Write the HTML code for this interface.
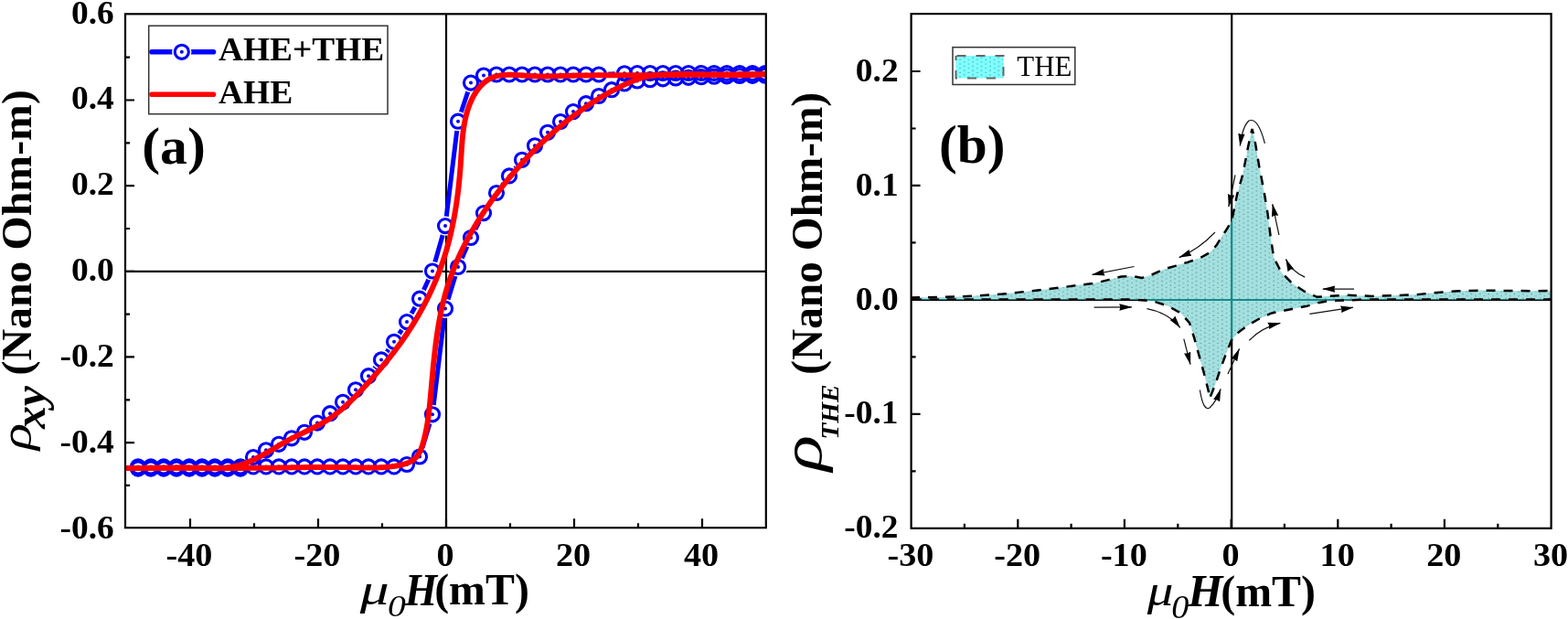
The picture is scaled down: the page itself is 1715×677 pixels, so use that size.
<!DOCTYPE html>
<html><head><meta charset="utf-8"><style>
html,body{margin:0;padding:0;background:#fff;width:1715px;height:677px;overflow:hidden}
svg{display:block}
</style></head><body>
<svg width="1715" height="677" viewBox="0 0 1715 677">
<defs>
<clipPath id="ca"><rect x="137.0" y="15.3" width="700.8" height="561.9"/></clipPath>
<pattern id="dots" x="0" y="0" width="9.4" height="4.7" patternUnits="userSpaceOnUse"><rect width="9.4" height="4.7" fill="#a4e0e0"/><rect x="1.3" y="1.3" width="1.4" height="1.4" fill="#629e9e"/><rect x="6" y="3.65" width="1.4" height="1.4" fill="#629e9e"/></pattern>
<pattern id="dots2" x="0" y="0" width="9.4" height="4.7" patternUnits="userSpaceOnUse"><rect width="9.4" height="4.7" fill="#80ffff"/><rect x="1.3" y="1.3" width="1.3" height="1.3" fill="#3aa0a0"/><rect x="6" y="3.65" width="1.3" height="1.3" fill="#3aa0a0"/></pattern>
</defs>
<rect width="1715" height="677" fill="#fff"/>
<g stroke="#000" stroke-width="2.2" fill="none">
<line x1="137.0" y1="296.9" x2="837.8" y2="296.9"/>
<line x1="488.0" y1="15.3" x2="488.0" y2="577.2"/>
</g>
<g clip-path="url(#ca)">
<polyline points="151.0,512.6 165.0,512.6 179.0,512.6 193.0,512.6 207.0,512.6 221.0,512.6 235.0,512.6 249.0,512.6 263.0,512.6 277.0,500.0 291.0,492.3 305.0,485.8 319.0,479.3 333.0,472.8 347.0,462.6 361.0,452.2 375.0,439.8 389.0,426.3 403.0,411.2 417.0,393.4 431.0,373.8 445.0,352.1 459.0,326.7 473.0,296.5 487.0,247.1 501.0,132.7 515.0,90.6 529.0,82.5 543.0,81.5 557.0,81.5 571.0,81.5 585.0,81.5 599.0,81.5 613.0,81.5 627.0,81.5 641.0,81.5 655.0,81.5 669.0,81.0 683.0,80.3 697.0,80.1 711.0,80.0 725.0,80.0 739.0,80.0 753.0,80.0 767.0,80.0 781.0,80.0 795.0,80.0 809.0,80.0 823.0,80.0 837.0,80.0" fill="none" stroke="#0000ff" stroke-width="5" stroke-linejoin="round"/>
<polyline points="151.0,510.4 165.0,510.4 179.0,510.4 193.0,510.4 207.0,510.4 221.0,510.4 235.0,510.4 249.0,510.4 263.0,510.4 277.0,510.4 291.0,510.4 305.0,510.4 319.0,510.4 333.0,510.4 347.0,510.4 361.0,510.4 375.0,510.4 389.0,510.4 403.0,510.4 417.0,510.4 431.0,510.4 445.0,508.0 459.0,499.5 473.0,453.3 487.0,337.5 501.0,292.0 515.0,260.0 529.0,233.1 543.0,211.0 557.0,192.4 571.0,174.8 585.0,159.3 599.0,144.8 613.0,133.0 627.0,122.1 641.0,113.2 655.0,105.0 669.0,98.2 683.0,91.5 697.0,88.5 711.0,87.2 725.0,86.3 739.0,85.5 753.0,84.8 767.0,84.2 781.0,83.7 795.0,83.3 809.0,83.0 823.0,82.8 837.0,82.7" fill="none" stroke="#0000ff" stroke-width="5" stroke-linejoin="round"/>
<circle cx="151.0" cy="512.6" r="10.6" fill="#fff"/>
<circle cx="165.0" cy="512.6" r="10.6" fill="#fff"/>
<circle cx="179.0" cy="512.6" r="10.6" fill="#fff"/>
<circle cx="193.0" cy="512.6" r="10.6" fill="#fff"/>
<circle cx="207.0" cy="512.6" r="10.6" fill="#fff"/>
<circle cx="221.0" cy="512.6" r="10.6" fill="#fff"/>
<circle cx="235.0" cy="512.6" r="10.6" fill="#fff"/>
<circle cx="249.0" cy="512.6" r="10.6" fill="#fff"/>
<circle cx="263.0" cy="512.6" r="10.6" fill="#fff"/>
<circle cx="277.0" cy="500.0" r="10.6" fill="#fff"/>
<circle cx="291.0" cy="492.3" r="10.6" fill="#fff"/>
<circle cx="305.0" cy="485.8" r="10.6" fill="#fff"/>
<circle cx="319.0" cy="479.3" r="10.6" fill="#fff"/>
<circle cx="333.0" cy="472.8" r="10.6" fill="#fff"/>
<circle cx="347.0" cy="462.6" r="10.6" fill="#fff"/>
<circle cx="361.0" cy="452.2" r="10.6" fill="#fff"/>
<circle cx="375.0" cy="439.8" r="10.6" fill="#fff"/>
<circle cx="389.0" cy="426.3" r="10.6" fill="#fff"/>
<circle cx="403.0" cy="411.2" r="10.6" fill="#fff"/>
<circle cx="417.0" cy="393.4" r="10.6" fill="#fff"/>
<circle cx="431.0" cy="373.8" r="10.6" fill="#fff"/>
<circle cx="445.0" cy="352.1" r="10.6" fill="#fff"/>
<circle cx="459.0" cy="326.7" r="10.6" fill="#fff"/>
<circle cx="473.0" cy="296.5" r="10.6" fill="#fff"/>
<circle cx="487.0" cy="247.1" r="10.6" fill="#fff"/>
<circle cx="501.0" cy="132.7" r="10.6" fill="#fff"/>
<circle cx="515.0" cy="90.6" r="10.6" fill="#fff"/>
<circle cx="529.0" cy="82.5" r="10.6" fill="#fff"/>
<circle cx="543.0" cy="81.5" r="10.6" fill="#fff"/>
<circle cx="557.0" cy="81.5" r="10.6" fill="#fff"/>
<circle cx="571.0" cy="81.5" r="10.6" fill="#fff"/>
<circle cx="585.0" cy="81.5" r="10.6" fill="#fff"/>
<circle cx="599.0" cy="81.5" r="10.6" fill="#fff"/>
<circle cx="613.0" cy="81.5" r="10.6" fill="#fff"/>
<circle cx="627.0" cy="81.5" r="10.6" fill="#fff"/>
<circle cx="641.0" cy="81.5" r="10.6" fill="#fff"/>
<circle cx="655.0" cy="81.5" r="10.6" fill="#fff"/>
<circle cx="683.0" cy="80.3" r="10.6" fill="#fff"/>
<circle cx="697.0" cy="80.1" r="10.6" fill="#fff"/>
<circle cx="711.0" cy="80.0" r="10.6" fill="#fff"/>
<circle cx="725.0" cy="80.0" r="10.6" fill="#fff"/>
<circle cx="739.0" cy="80.0" r="10.6" fill="#fff"/>
<circle cx="753.0" cy="80.0" r="10.6" fill="#fff"/>
<circle cx="767.0" cy="80.0" r="10.6" fill="#fff"/>
<circle cx="781.0" cy="80.0" r="10.6" fill="#fff"/>
<circle cx="795.0" cy="80.0" r="10.6" fill="#fff"/>
<circle cx="809.0" cy="80.0" r="10.6" fill="#fff"/>
<circle cx="823.0" cy="80.0" r="10.6" fill="#fff"/>
<circle cx="837.0" cy="80.0" r="10.6" fill="#fff"/>
<circle cx="151.0" cy="510.4" r="10.6" fill="#fff"/>
<circle cx="165.0" cy="510.4" r="10.6" fill="#fff"/>
<circle cx="179.0" cy="510.4" r="10.6" fill="#fff"/>
<circle cx="193.0" cy="510.4" r="10.6" fill="#fff"/>
<circle cx="207.0" cy="510.4" r="10.6" fill="#fff"/>
<circle cx="221.0" cy="510.4" r="10.6" fill="#fff"/>
<circle cx="235.0" cy="510.4" r="10.6" fill="#fff"/>
<circle cx="249.0" cy="510.4" r="10.6" fill="#fff"/>
<circle cx="263.0" cy="510.4" r="10.6" fill="#fff"/>
<circle cx="277.0" cy="510.4" r="10.6" fill="#fff"/>
<circle cx="291.0" cy="510.4" r="10.6" fill="#fff"/>
<circle cx="305.0" cy="510.4" r="10.6" fill="#fff"/>
<circle cx="319.0" cy="510.4" r="10.6" fill="#fff"/>
<circle cx="333.0" cy="510.4" r="10.6" fill="#fff"/>
<circle cx="347.0" cy="510.4" r="10.6" fill="#fff"/>
<circle cx="361.0" cy="510.4" r="10.6" fill="#fff"/>
<circle cx="375.0" cy="510.4" r="10.6" fill="#fff"/>
<circle cx="389.0" cy="510.4" r="10.6" fill="#fff"/>
<circle cx="403.0" cy="510.4" r="10.6" fill="#fff"/>
<circle cx="417.0" cy="510.4" r="10.6" fill="#fff"/>
<circle cx="431.0" cy="510.4" r="10.6" fill="#fff"/>
<circle cx="445.0" cy="508.0" r="10.6" fill="#fff"/>
<circle cx="459.0" cy="499.5" r="10.6" fill="#fff"/>
<circle cx="473.0" cy="453.3" r="10.6" fill="#fff"/>
<circle cx="487.0" cy="337.5" r="10.6" fill="#fff"/>
<circle cx="501.0" cy="292.0" r="10.6" fill="#fff"/>
<circle cx="515.0" cy="260.0" r="10.6" fill="#fff"/>
<circle cx="529.0" cy="233.1" r="10.6" fill="#fff"/>
<circle cx="543.0" cy="211.0" r="10.6" fill="#fff"/>
<circle cx="557.0" cy="192.4" r="10.6" fill="#fff"/>
<circle cx="571.0" cy="174.8" r="10.6" fill="#fff"/>
<circle cx="585.0" cy="159.3" r="10.6" fill="#fff"/>
<circle cx="599.0" cy="144.8" r="10.6" fill="#fff"/>
<circle cx="613.0" cy="133.0" r="10.6" fill="#fff"/>
<circle cx="627.0" cy="122.1" r="10.6" fill="#fff"/>
<circle cx="641.0" cy="113.2" r="10.6" fill="#fff"/>
<circle cx="655.0" cy="105.0" r="10.6" fill="#fff"/>
<circle cx="669.0" cy="98.2" r="10.6" fill="#fff"/>
<circle cx="683.0" cy="91.5" r="10.6" fill="#fff"/>
<circle cx="697.0" cy="88.5" r="10.6" fill="#fff"/>
<circle cx="711.0" cy="87.2" r="10.6" fill="#fff"/>
<circle cx="725.0" cy="86.3" r="10.6" fill="#fff"/>
<circle cx="739.0" cy="85.5" r="10.6" fill="#fff"/>
<circle cx="753.0" cy="84.8" r="10.6" fill="#fff"/>
<circle cx="767.0" cy="84.2" r="10.6" fill="#fff"/>
<circle cx="781.0" cy="83.7" r="10.6" fill="#fff"/>
<circle cx="795.0" cy="83.3" r="10.6" fill="#fff"/>
<circle cx="809.0" cy="83.0" r="10.6" fill="#fff"/>
<circle cx="823.0" cy="82.8" r="10.6" fill="#fff"/>
<circle cx="837.0" cy="82.7" r="10.6" fill="#fff"/>
<circle cx="151.0" cy="512.6" r="7.55" fill="none" stroke="#0000ff" stroke-width="3.1"/>
<circle cx="151.0" cy="512.6" r="2" fill="#0000ff"/>
<circle cx="165.0" cy="512.6" r="7.55" fill="none" stroke="#0000ff" stroke-width="3.1"/>
<circle cx="165.0" cy="512.6" r="2" fill="#0000ff"/>
<circle cx="179.0" cy="512.6" r="7.55" fill="none" stroke="#0000ff" stroke-width="3.1"/>
<circle cx="179.0" cy="512.6" r="2" fill="#0000ff"/>
<circle cx="193.0" cy="512.6" r="7.55" fill="none" stroke="#0000ff" stroke-width="3.1"/>
<circle cx="193.0" cy="512.6" r="2" fill="#0000ff"/>
<circle cx="207.0" cy="512.6" r="7.55" fill="none" stroke="#0000ff" stroke-width="3.1"/>
<circle cx="207.0" cy="512.6" r="2" fill="#0000ff"/>
<circle cx="221.0" cy="512.6" r="7.55" fill="none" stroke="#0000ff" stroke-width="3.1"/>
<circle cx="221.0" cy="512.6" r="2" fill="#0000ff"/>
<circle cx="235.0" cy="512.6" r="7.55" fill="none" stroke="#0000ff" stroke-width="3.1"/>
<circle cx="235.0" cy="512.6" r="2" fill="#0000ff"/>
<circle cx="249.0" cy="512.6" r="7.55" fill="none" stroke="#0000ff" stroke-width="3.1"/>
<circle cx="249.0" cy="512.6" r="2" fill="#0000ff"/>
<circle cx="263.0" cy="512.6" r="7.55" fill="none" stroke="#0000ff" stroke-width="3.1"/>
<circle cx="263.0" cy="512.6" r="2" fill="#0000ff"/>
<circle cx="277.0" cy="500.0" r="7.55" fill="none" stroke="#0000ff" stroke-width="3.1"/>
<circle cx="277.0" cy="500.0" r="2" fill="#0000ff"/>
<circle cx="291.0" cy="492.3" r="7.55" fill="none" stroke="#0000ff" stroke-width="3.1"/>
<circle cx="291.0" cy="492.3" r="2" fill="#0000ff"/>
<circle cx="305.0" cy="485.8" r="7.55" fill="none" stroke="#0000ff" stroke-width="3.1"/>
<circle cx="305.0" cy="485.8" r="2" fill="#0000ff"/>
<circle cx="319.0" cy="479.3" r="7.55" fill="none" stroke="#0000ff" stroke-width="3.1"/>
<circle cx="319.0" cy="479.3" r="2" fill="#0000ff"/>
<circle cx="333.0" cy="472.8" r="7.55" fill="none" stroke="#0000ff" stroke-width="3.1"/>
<circle cx="333.0" cy="472.8" r="2" fill="#0000ff"/>
<circle cx="347.0" cy="462.6" r="7.55" fill="none" stroke="#0000ff" stroke-width="3.1"/>
<circle cx="347.0" cy="462.6" r="2" fill="#0000ff"/>
<circle cx="361.0" cy="452.2" r="7.55" fill="none" stroke="#0000ff" stroke-width="3.1"/>
<circle cx="361.0" cy="452.2" r="2" fill="#0000ff"/>
<circle cx="375.0" cy="439.8" r="7.55" fill="none" stroke="#0000ff" stroke-width="3.1"/>
<circle cx="375.0" cy="439.8" r="2" fill="#0000ff"/>
<circle cx="389.0" cy="426.3" r="7.55" fill="none" stroke="#0000ff" stroke-width="3.1"/>
<circle cx="389.0" cy="426.3" r="2" fill="#0000ff"/>
<circle cx="403.0" cy="411.2" r="7.55" fill="none" stroke="#0000ff" stroke-width="3.1"/>
<circle cx="403.0" cy="411.2" r="2" fill="#0000ff"/>
<circle cx="417.0" cy="393.4" r="7.55" fill="none" stroke="#0000ff" stroke-width="3.1"/>
<circle cx="417.0" cy="393.4" r="2" fill="#0000ff"/>
<circle cx="431.0" cy="373.8" r="7.55" fill="none" stroke="#0000ff" stroke-width="3.1"/>
<circle cx="431.0" cy="373.8" r="2" fill="#0000ff"/>
<circle cx="445.0" cy="352.1" r="7.55" fill="none" stroke="#0000ff" stroke-width="3.1"/>
<circle cx="445.0" cy="352.1" r="2" fill="#0000ff"/>
<circle cx="459.0" cy="326.7" r="7.55" fill="none" stroke="#0000ff" stroke-width="3.1"/>
<circle cx="459.0" cy="326.7" r="2" fill="#0000ff"/>
<circle cx="473.0" cy="296.5" r="7.55" fill="none" stroke="#0000ff" stroke-width="3.1"/>
<circle cx="473.0" cy="296.5" r="2" fill="#0000ff"/>
<circle cx="487.0" cy="247.1" r="7.55" fill="none" stroke="#0000ff" stroke-width="3.1"/>
<circle cx="487.0" cy="247.1" r="2" fill="#0000ff"/>
<circle cx="501.0" cy="132.7" r="7.55" fill="none" stroke="#0000ff" stroke-width="3.1"/>
<circle cx="501.0" cy="132.7" r="2" fill="#0000ff"/>
<circle cx="515.0" cy="90.6" r="7.55" fill="none" stroke="#0000ff" stroke-width="3.1"/>
<circle cx="515.0" cy="90.6" r="2" fill="#0000ff"/>
<circle cx="529.0" cy="82.5" r="7.55" fill="none" stroke="#0000ff" stroke-width="3.1"/>
<circle cx="529.0" cy="82.5" r="2" fill="#0000ff"/>
<circle cx="543.0" cy="81.5" r="7.55" fill="none" stroke="#0000ff" stroke-width="3.1"/>
<circle cx="543.0" cy="81.5" r="2" fill="#0000ff"/>
<circle cx="557.0" cy="81.5" r="7.55" fill="none" stroke="#0000ff" stroke-width="3.1"/>
<circle cx="557.0" cy="81.5" r="2" fill="#0000ff"/>
<circle cx="571.0" cy="81.5" r="7.55" fill="none" stroke="#0000ff" stroke-width="3.1"/>
<circle cx="571.0" cy="81.5" r="2" fill="#0000ff"/>
<circle cx="585.0" cy="81.5" r="7.55" fill="none" stroke="#0000ff" stroke-width="3.1"/>
<circle cx="585.0" cy="81.5" r="2" fill="#0000ff"/>
<circle cx="599.0" cy="81.5" r="7.55" fill="none" stroke="#0000ff" stroke-width="3.1"/>
<circle cx="599.0" cy="81.5" r="2" fill="#0000ff"/>
<circle cx="613.0" cy="81.5" r="7.55" fill="none" stroke="#0000ff" stroke-width="3.1"/>
<circle cx="613.0" cy="81.5" r="2" fill="#0000ff"/>
<circle cx="627.0" cy="81.5" r="7.55" fill="none" stroke="#0000ff" stroke-width="3.1"/>
<circle cx="627.0" cy="81.5" r="2" fill="#0000ff"/>
<circle cx="641.0" cy="81.5" r="7.55" fill="none" stroke="#0000ff" stroke-width="3.1"/>
<circle cx="641.0" cy="81.5" r="2" fill="#0000ff"/>
<circle cx="655.0" cy="81.5" r="7.55" fill="none" stroke="#0000ff" stroke-width="3.1"/>
<circle cx="655.0" cy="81.5" r="2" fill="#0000ff"/>
<circle cx="683.0" cy="80.3" r="7.55" fill="none" stroke="#0000ff" stroke-width="3.1"/>
<circle cx="683.0" cy="80.3" r="2" fill="#0000ff"/>
<circle cx="697.0" cy="80.1" r="7.55" fill="none" stroke="#0000ff" stroke-width="3.1"/>
<circle cx="697.0" cy="80.1" r="2" fill="#0000ff"/>
<circle cx="711.0" cy="80.0" r="7.55" fill="none" stroke="#0000ff" stroke-width="3.1"/>
<circle cx="711.0" cy="80.0" r="2" fill="#0000ff"/>
<circle cx="725.0" cy="80.0" r="7.55" fill="none" stroke="#0000ff" stroke-width="3.1"/>
<circle cx="725.0" cy="80.0" r="2" fill="#0000ff"/>
<circle cx="739.0" cy="80.0" r="7.55" fill="none" stroke="#0000ff" stroke-width="3.1"/>
<circle cx="739.0" cy="80.0" r="2" fill="#0000ff"/>
<circle cx="753.0" cy="80.0" r="7.55" fill="none" stroke="#0000ff" stroke-width="3.1"/>
<circle cx="753.0" cy="80.0" r="2" fill="#0000ff"/>
<circle cx="767.0" cy="80.0" r="7.55" fill="none" stroke="#0000ff" stroke-width="3.1"/>
<circle cx="767.0" cy="80.0" r="2" fill="#0000ff"/>
<circle cx="781.0" cy="80.0" r="7.55" fill="none" stroke="#0000ff" stroke-width="3.1"/>
<circle cx="781.0" cy="80.0" r="2" fill="#0000ff"/>
<circle cx="795.0" cy="80.0" r="7.55" fill="none" stroke="#0000ff" stroke-width="3.1"/>
<circle cx="795.0" cy="80.0" r="2" fill="#0000ff"/>
<circle cx="809.0" cy="80.0" r="7.55" fill="none" stroke="#0000ff" stroke-width="3.1"/>
<circle cx="809.0" cy="80.0" r="2" fill="#0000ff"/>
<circle cx="823.0" cy="80.0" r="7.55" fill="none" stroke="#0000ff" stroke-width="3.1"/>
<circle cx="823.0" cy="80.0" r="2" fill="#0000ff"/>
<circle cx="837.0" cy="80.0" r="7.55" fill="none" stroke="#0000ff" stroke-width="3.1"/>
<circle cx="837.0" cy="80.0" r="2" fill="#0000ff"/>
<circle cx="151.0" cy="510.4" r="7.55" fill="none" stroke="#0000ff" stroke-width="3.1"/>
<circle cx="151.0" cy="510.4" r="2" fill="#0000ff"/>
<circle cx="165.0" cy="510.4" r="7.55" fill="none" stroke="#0000ff" stroke-width="3.1"/>
<circle cx="165.0" cy="510.4" r="2" fill="#0000ff"/>
<circle cx="179.0" cy="510.4" r="7.55" fill="none" stroke="#0000ff" stroke-width="3.1"/>
<circle cx="179.0" cy="510.4" r="2" fill="#0000ff"/>
<circle cx="193.0" cy="510.4" r="7.55" fill="none" stroke="#0000ff" stroke-width="3.1"/>
<circle cx="193.0" cy="510.4" r="2" fill="#0000ff"/>
<circle cx="207.0" cy="510.4" r="7.55" fill="none" stroke="#0000ff" stroke-width="3.1"/>
<circle cx="207.0" cy="510.4" r="2" fill="#0000ff"/>
<circle cx="221.0" cy="510.4" r="7.55" fill="none" stroke="#0000ff" stroke-width="3.1"/>
<circle cx="221.0" cy="510.4" r="2" fill="#0000ff"/>
<circle cx="235.0" cy="510.4" r="7.55" fill="none" stroke="#0000ff" stroke-width="3.1"/>
<circle cx="235.0" cy="510.4" r="2" fill="#0000ff"/>
<circle cx="249.0" cy="510.4" r="7.55" fill="none" stroke="#0000ff" stroke-width="3.1"/>
<circle cx="249.0" cy="510.4" r="2" fill="#0000ff"/>
<circle cx="263.0" cy="510.4" r="7.55" fill="none" stroke="#0000ff" stroke-width="3.1"/>
<circle cx="263.0" cy="510.4" r="2" fill="#0000ff"/>
<circle cx="277.0" cy="510.4" r="7.55" fill="none" stroke="#0000ff" stroke-width="3.1"/>
<circle cx="277.0" cy="510.4" r="2" fill="#0000ff"/>
<circle cx="291.0" cy="510.4" r="7.55" fill="none" stroke="#0000ff" stroke-width="3.1"/>
<circle cx="291.0" cy="510.4" r="2" fill="#0000ff"/>
<circle cx="305.0" cy="510.4" r="7.55" fill="none" stroke="#0000ff" stroke-width="3.1"/>
<circle cx="305.0" cy="510.4" r="2" fill="#0000ff"/>
<circle cx="319.0" cy="510.4" r="7.55" fill="none" stroke="#0000ff" stroke-width="3.1"/>
<circle cx="319.0" cy="510.4" r="2" fill="#0000ff"/>
<circle cx="333.0" cy="510.4" r="7.55" fill="none" stroke="#0000ff" stroke-width="3.1"/>
<circle cx="333.0" cy="510.4" r="2" fill="#0000ff"/>
<circle cx="347.0" cy="510.4" r="7.55" fill="none" stroke="#0000ff" stroke-width="3.1"/>
<circle cx="347.0" cy="510.4" r="2" fill="#0000ff"/>
<circle cx="361.0" cy="510.4" r="7.55" fill="none" stroke="#0000ff" stroke-width="3.1"/>
<circle cx="361.0" cy="510.4" r="2" fill="#0000ff"/>
<circle cx="375.0" cy="510.4" r="7.55" fill="none" stroke="#0000ff" stroke-width="3.1"/>
<circle cx="375.0" cy="510.4" r="2" fill="#0000ff"/>
<circle cx="389.0" cy="510.4" r="7.55" fill="none" stroke="#0000ff" stroke-width="3.1"/>
<circle cx="389.0" cy="510.4" r="2" fill="#0000ff"/>
<circle cx="403.0" cy="510.4" r="7.55" fill="none" stroke="#0000ff" stroke-width="3.1"/>
<circle cx="403.0" cy="510.4" r="2" fill="#0000ff"/>
<circle cx="417.0" cy="510.4" r="7.55" fill="none" stroke="#0000ff" stroke-width="3.1"/>
<circle cx="417.0" cy="510.4" r="2" fill="#0000ff"/>
<circle cx="431.0" cy="510.4" r="7.55" fill="none" stroke="#0000ff" stroke-width="3.1"/>
<circle cx="431.0" cy="510.4" r="2" fill="#0000ff"/>
<circle cx="445.0" cy="508.0" r="7.55" fill="none" stroke="#0000ff" stroke-width="3.1"/>
<circle cx="445.0" cy="508.0" r="2" fill="#0000ff"/>
<circle cx="459.0" cy="499.5" r="7.55" fill="none" stroke="#0000ff" stroke-width="3.1"/>
<circle cx="459.0" cy="499.5" r="2" fill="#0000ff"/>
<circle cx="473.0" cy="453.3" r="7.55" fill="none" stroke="#0000ff" stroke-width="3.1"/>
<circle cx="473.0" cy="453.3" r="2" fill="#0000ff"/>
<circle cx="487.0" cy="337.5" r="7.55" fill="none" stroke="#0000ff" stroke-width="3.1"/>
<circle cx="487.0" cy="337.5" r="2" fill="#0000ff"/>
<circle cx="501.0" cy="292.0" r="7.55" fill="none" stroke="#0000ff" stroke-width="3.1"/>
<circle cx="501.0" cy="292.0" r="2" fill="#0000ff"/>
<circle cx="515.0" cy="260.0" r="7.55" fill="none" stroke="#0000ff" stroke-width="3.1"/>
<circle cx="515.0" cy="260.0" r="2" fill="#0000ff"/>
<circle cx="529.0" cy="233.1" r="7.55" fill="none" stroke="#0000ff" stroke-width="3.1"/>
<circle cx="529.0" cy="233.1" r="2" fill="#0000ff"/>
<circle cx="543.0" cy="211.0" r="7.55" fill="none" stroke="#0000ff" stroke-width="3.1"/>
<circle cx="543.0" cy="211.0" r="2" fill="#0000ff"/>
<circle cx="557.0" cy="192.4" r="7.55" fill="none" stroke="#0000ff" stroke-width="3.1"/>
<circle cx="557.0" cy="192.4" r="2" fill="#0000ff"/>
<circle cx="571.0" cy="174.8" r="7.55" fill="none" stroke="#0000ff" stroke-width="3.1"/>
<circle cx="571.0" cy="174.8" r="2" fill="#0000ff"/>
<circle cx="585.0" cy="159.3" r="7.55" fill="none" stroke="#0000ff" stroke-width="3.1"/>
<circle cx="585.0" cy="159.3" r="2" fill="#0000ff"/>
<circle cx="599.0" cy="144.8" r="7.55" fill="none" stroke="#0000ff" stroke-width="3.1"/>
<circle cx="599.0" cy="144.8" r="2" fill="#0000ff"/>
<circle cx="613.0" cy="133.0" r="7.55" fill="none" stroke="#0000ff" stroke-width="3.1"/>
<circle cx="613.0" cy="133.0" r="2" fill="#0000ff"/>
<circle cx="627.0" cy="122.1" r="7.55" fill="none" stroke="#0000ff" stroke-width="3.1"/>
<circle cx="627.0" cy="122.1" r="2" fill="#0000ff"/>
<circle cx="641.0" cy="113.2" r="7.55" fill="none" stroke="#0000ff" stroke-width="3.1"/>
<circle cx="641.0" cy="113.2" r="2" fill="#0000ff"/>
<circle cx="655.0" cy="105.0" r="7.55" fill="none" stroke="#0000ff" stroke-width="3.1"/>
<circle cx="655.0" cy="105.0" r="2" fill="#0000ff"/>
<circle cx="669.0" cy="98.2" r="7.55" fill="none" stroke="#0000ff" stroke-width="3.1"/>
<circle cx="669.0" cy="98.2" r="2" fill="#0000ff"/>
<circle cx="683.0" cy="91.5" r="7.55" fill="none" stroke="#0000ff" stroke-width="3.1"/>
<circle cx="683.0" cy="91.5" r="2" fill="#0000ff"/>
<circle cx="697.0" cy="88.5" r="7.55" fill="none" stroke="#0000ff" stroke-width="3.1"/>
<circle cx="697.0" cy="88.5" r="2" fill="#0000ff"/>
<circle cx="711.0" cy="87.2" r="7.55" fill="none" stroke="#0000ff" stroke-width="3.1"/>
<circle cx="711.0" cy="87.2" r="2" fill="#0000ff"/>
<circle cx="725.0" cy="86.3" r="7.55" fill="none" stroke="#0000ff" stroke-width="3.1"/>
<circle cx="725.0" cy="86.3" r="2" fill="#0000ff"/>
<circle cx="739.0" cy="85.5" r="7.55" fill="none" stroke="#0000ff" stroke-width="3.1"/>
<circle cx="739.0" cy="85.5" r="2" fill="#0000ff"/>
<circle cx="753.0" cy="84.8" r="7.55" fill="none" stroke="#0000ff" stroke-width="3.1"/>
<circle cx="753.0" cy="84.8" r="2" fill="#0000ff"/>
<circle cx="767.0" cy="84.2" r="7.55" fill="none" stroke="#0000ff" stroke-width="3.1"/>
<circle cx="767.0" cy="84.2" r="2" fill="#0000ff"/>
<circle cx="781.0" cy="83.7" r="7.55" fill="none" stroke="#0000ff" stroke-width="3.1"/>
<circle cx="781.0" cy="83.7" r="2" fill="#0000ff"/>
<circle cx="795.0" cy="83.3" r="7.55" fill="none" stroke="#0000ff" stroke-width="3.1"/>
<circle cx="795.0" cy="83.3" r="2" fill="#0000ff"/>
<circle cx="809.0" cy="83.0" r="7.55" fill="none" stroke="#0000ff" stroke-width="3.1"/>
<circle cx="809.0" cy="83.0" r="2" fill="#0000ff"/>
<circle cx="823.0" cy="82.8" r="7.55" fill="none" stroke="#0000ff" stroke-width="3.1"/>
<circle cx="823.0" cy="82.8" r="2" fill="#0000ff"/>
<circle cx="837.0" cy="82.7" r="7.55" fill="none" stroke="#0000ff" stroke-width="3.1"/>
<circle cx="837.0" cy="82.7" r="2" fill="#0000ff"/>
<path d="M136.99,511.99 L138.21,512.01 L139.42,512.02 L140.64,512.03 L141.86,512.04 L143.07,512.05 L144.29,512.06 L145.50,512.06 L146.71,512.06 L147.92,512.07 L149.13,512.07 L150.34,512.06 L151.55,512.06 L152.76,512.05 L153.97,512.05 L155.18,512.04 L156.39,512.03 L157.59,512.02 L158.80,512.01 L160.01,512.00 L161.21,511.99 L162.42,511.97 L163.62,511.96 L164.83,511.94 L166.03,511.93 L167.24,511.91 L168.44,511.90 L169.64,511.88 L170.85,511.86 L172.05,511.85 L173.26,511.83 L174.46,511.81 L175.66,511.80 L176.87,511.78 L178.07,511.76 L179.27,511.75 L180.48,511.73 L181.68,511.72 L182.88,511.70 L184.09,511.69 L185.29,511.67 L186.50,511.66 L187.70,511.65 L188.91,511.64 L190.11,511.63 L191.32,511.62 L192.52,511.61 L193.73,511.60 L194.94,511.60 L196.14,511.59 L197.35,511.59 L198.56,511.59 L199.77,511.59 L200.98,511.59 L202.19,511.60 L203.40,511.60 L204.61,511.61 L205.83,511.62 L207.04,511.63 L208.25,511.64 L209.47,511.66 L210.68,511.68 L211.90,511.70 L213.12,511.72 L214.34,511.75 L215.56,511.78 L216.78,511.81 L218.00,511.84 L219.22,511.87 L220.44,511.91 L221.67,511.95 L222.89,511.98 L224.11,512.02 L225.34,512.05 L226.56,512.09 L227.79,512.11 L229.01,512.14 L230.23,512.16 L231.45,512.17 L232.67,512.18 L233.89,512.19 L235.11,512.18 L236.32,512.17 L237.54,512.15 L238.75,512.12 L239.96,512.08 L241.17,512.02 L242.37,511.96 L243.57,511.88 L244.77,511.80 L245.97,511.69 L247.16,511.58 L248.35,511.44 L249.54,511.29 L250.72,511.13 L251.90,510.95 L253.07,510.75 L254.25,510.53 L255.41,510.30 L256.57,510.06 L257.73,509.79 L258.89,509.51 L260.04,509.22 L261.18,508.91 L262.32,508.59 L263.46,508.25 L264.59,507.89 L265.72,507.53 L266.84,507.14 L267.96,506.75 L269.08,506.34 L270.18,505.91 L271.29,505.48 L272.39,505.03 L273.48,504.57 L274.57,504.09 L275.66,503.61 L276.74,503.11 L277.82,502.61 L278.90,502.09 L279.97,501.56 L281.04,501.03 L282.11,500.48 L283.17,499.93 L284.23,499.37 L285.29,498.80 L286.35,498.23 L287.40,497.65 L288.46,497.06 L289.51,496.47 L290.56,495.87 L291.61,495.27 L292.65,494.67 L293.70,494.06 L294.75,493.45 L295.79,492.83 L296.84,492.21 L297.88,491.59 L298.93,490.97 L299.97,490.35 L301.02,489.73 L302.07,489.11 L303.11,488.49 L304.16,487.87 L305.21,487.25 L306.26,486.63 L307.31,486.02 L308.37,485.40 L309.42,484.79 L310.48,484.19 L311.54,483.59 L312.60,482.99 L313.67,482.40 L314.74,481.81 L315.81,481.23 L316.88,480.66 L317.96,480.09 L319.04,479.53 L320.12,478.97 L321.21,478.42 L322.30,477.88 L323.38,477.33 L324.48,476.80 L325.57,476.26 L326.66,475.73 L327.75,475.20 L328.85,474.67 L329.94,474.14 L331.04,473.62 L332.13,473.10 L333.23,472.57 L334.32,472.05 L335.41,471.52 L336.51,471.00 L337.60,470.47 L338.68,469.94 L339.77,469.41 L340.86,468.88 L341.94,468.34 L343.02,467.80 L344.09,467.25 L345.17,466.70 L346.24,466.15 L347.30,465.59 L348.36,465.03 L349.42,464.45 L350.47,463.88 L351.52,463.29 L352.56,462.70 L353.60,462.10 L354.64,461.49 L355.66,460.87 L356.68,460.25 L357.70,459.61 L358.70,458.96 L359.71,458.31 L360.70,457.64 L361.69,456.97 L362.67,456.28 L363.65,455.59 L364.62,454.89 L365.59,454.18 L366.55,453.46 L367.50,452.73 L368.45,451.99 L369.39,451.25 L370.33,450.50 L371.26,449.74 L372.19,448.97 L373.11,448.20 L374.03,447.42 L374.94,446.63 L375.85,445.84 L376.75,445.04 L377.65,444.23 L378.55,443.42 L379.44,442.60 L380.32,441.78 L381.20,440.95 L382.08,440.12 L382.96,439.28 L383.83,438.43 L384.69,437.59 L385.56,436.73 L386.42,435.88 L387.27,435.02 L388.13,434.15 L388.98,433.28 L389.83,432.41 L390.67,431.54 L391.51,430.66 L392.35,429.78 L393.19,428.90 L394.02,428.01 L394.85,427.13 L395.68,426.24 L396.51,425.35 L397.33,424.46 L398.16,423.56 L398.98,422.67 L399.80,421.77 L400.61,420.87 L401.43,419.98 L402.24,419.08 L403.06,418.18 L403.87,417.28 L404.68,416.38 L405.48,415.48 L406.29,414.57 L407.09,413.67 L407.89,412.76 L408.69,411.86 L409.49,410.95 L410.28,410.04 L411.08,409.13 L411.87,408.22 L412.66,407.30 L413.44,406.39 L414.23,405.47 L415.01,404.55 L415.79,403.64 L416.57,402.71 L417.35,401.79 L418.12,400.87 L418.89,399.94 L419.66,399.02 L420.43,398.09 L421.20,397.16 L421.96,396.22 L422.72,395.29 L423.48,394.35 L424.23,393.42 L424.98,392.48 L425.73,391.53 L426.48,390.59 L427.23,389.64 L427.97,388.69 L428.71,387.74 L429.45,386.79 L430.18,385.84 L430.92,384.88 L431.64,383.92 L432.37,382.96 L433.10,381.99 L433.82,381.03 L434.53,380.06 L435.25,379.09 L435.96,378.11 L436.67,377.14 L437.38,376.16 L438.08,375.18 L438.79,374.19 L439.48,373.20 L440.18,372.22 L440.87,371.22 L441.56,370.23 L442.25,369.23 L442.93,368.23 L443.61,367.23 L444.29,366.23 L444.96,365.22 L445.63,364.22 L446.30,363.20 L446.96,362.19 L447.62,361.18 L448.28,360.16 L448.93,359.14 L449.59,358.12 L450.23,357.09 L450.88,356.07 L451.52,355.04 L452.16,354.01 L452.79,352.97 L453.42,351.94 L454.05,350.90 L454.67,349.86 L455.29,348.82 L455.91,347.77 L456.53,346.73 L457.14,345.68 L457.74,344.63 L458.34,343.58 L458.94,342.52 L459.54,341.47 L460.13,340.41 L460.72,339.35 L461.30,338.29 L461.89,337.22 L462.46,336.16 L463.04,335.09 L463.61,334.02 L464.17,332.95 L464.73,331.87 L465.29,330.80 L465.85,329.72 L466.40,328.64 L466.94,327.56 L467.49,326.48 L468.03,325.40 L468.56,324.31 L469.09,323.22 L469.62,322.13 L470.14,321.04 L470.66,319.95 L471.17,318.85 L471.69,317.76 L472.19,316.66 L472.69,315.56 L473.19,314.46 L473.69,313.36 L474.18,312.25 L474.66,311.15 L475.14,310.04 L475.62,308.93 L476.09,307.82 L476.56,306.71 L477.02,305.60 L477.48,304.48 L477.94,303.36 L478.39,302.25 L478.84,301.13 L479.28,300.01 L479.72,298.88 L480.15,297.76 L480.58,296.64 L481.00,295.51 L481.42,294.38 L481.84,293.25 L482.25,292.12 L482.65,290.99 L483.06,289.86 L483.45,288.73 L483.84,287.59 L484.23,286.46 L484.61,285.32 L484.99,284.18 L485.37,283.04 L485.74,281.90 L486.10,280.76 L486.46,279.61 L486.82,278.47 L487.17,277.32 L487.52,276.18 L487.86,275.03 L488.20,273.88 L488.53,272.73 L488.86,271.57 L489.19,270.42 L489.51,269.27 L489.83,268.11 L490.14,266.96 L490.45,265.80 L490.76,264.64 L491.06,263.48 L491.36,262.32 L491.65,261.16 L491.94,259.99 L492.23,258.83 L492.51,257.66 L492.79,256.49 L493.06,255.33 L493.33,254.16 L493.60,252.99 L493.86,251.82 L494.12,250.64 L494.37,249.47 L494.63,248.30 L494.87,247.12 L495.12,245.94 L495.36,244.76 L495.60,243.59 L495.83,242.41 L496.06,241.22 L496.29,240.04 L496.51,238.86 L496.73,237.67 L496.95,236.49 L497.16,235.30 L497.37,234.12 L497.57,232.93 L497.78,231.74 L497.98,230.55 L498.17,229.36 L498.37,228.16 L498.56,226.97 L498.74,225.77 L498.93,224.58 L499.11,223.38 L499.29,222.18 L499.46,220.99 L499.63,219.79 L499.80,218.59 L499.97,217.38 L500.13,216.18 L500.29,214.98 L500.45,213.77 L500.60,212.57 L500.75,211.36 L500.90,210.15 L501.05,208.95 L501.19,207.74 L501.33,206.53 L501.47,205.32 L501.60,204.10 L501.74,202.89 L501.87,201.68 L501.99,200.46 L502.12,199.25 L502.24,198.03 L502.36,196.81 L502.48,195.59 L502.59,194.37 L502.70,193.15 L502.81,191.93 L502.92,190.71 L503.03,189.49 L503.13,188.26 L503.23,187.04 L503.33,185.81 L503.42,184.59 L503.52,183.36 L503.61,182.13 L503.70,180.90 L503.79,179.67 L503.87,178.44 L503.96,177.21 L504.04,175.98 L504.12,174.75 L504.20,173.51 L504.28,172.28 L504.35,171.04 L504.43,169.81 L504.51,168.58 L504.59,167.34 L504.67,166.11 L504.75,164.88 L504.83,163.64 L504.91,162.41 L505.00,161.18 L505.09,159.95 L505.18,158.72 L505.27,157.49 L505.37,156.27 L505.47,155.04 L505.57,153.82 L505.68,152.59 L505.80,151.37 L505.91,150.15 L506.04,148.94 L506.17,147.72 L506.30,146.51 L506.44,145.30 L506.59,144.09 L506.75,142.89 L506.91,141.69 L507.08,140.49 L507.25,139.29 L507.44,138.10 L507.63,136.91 L507.83,135.72 L508.04,134.54 L508.26,133.36 L508.49,132.19 L508.73,131.01 L508.99,129.85 L509.25,128.68 L509.52,127.52 L509.80,126.37 L510.10,125.22 L510.40,124.07 L510.72,122.93 L511.05,121.80 L511.40,120.67 L511.76,119.54 L512.13,118.42 L512.51,117.30 L512.91,116.19 L513.32,115.09 L513.75,113.99 L514.20,112.90 L514.65,111.81 L515.13,110.73 L515.62,109.66 L516.13,108.59 L516.65,107.53 L517.19,106.48 L517.75,105.43 L518.32,104.40 L518.91,103.37 L519.52,102.36 L520.14,101.36 L520.79,100.38 L521.45,99.41 L522.13,98.45 L522.82,97.52 L523.54,96.60 L524.27,95.70 L525.02,94.82 L525.79,93.96 L526.58,93.13 L527.38,92.32 L528.21,91.53 L529.05,90.77 L529.91,90.03 L530.79,89.33 L531.69,88.65 L532.61,88.00 L533.55,87.38 L534.51,86.80 L535.49,86.24 L536.49,85.72 L537.51,85.24 L538.55,84.79 L539.60,84.38 L540.68,84.01 L541.78,83.67 L542.89,83.36 L544.03,83.09 L545.17,82.84 L546.34,82.63 L547.52,82.44 L548.71,82.29 L549.91,82.15 L551.13,82.04 L552.36,81.96 L553.60,81.89 L554.85,81.85 L556.11,81.82 L557.37,81.81 L558.65,81.82 L559.93,81.84 L561.21,81.88 L562.50,81.93 L563.80,81.99 L565.09,82.05 L566.40,82.13 L567.70,82.21 L569.00,82.30 L570.30,82.39 L571.60,82.48 L572.91,82.58 L574.20,82.67 L575.50,82.76 L576.79,82.85 L578.07,82.94 L579.35,83.02 L580.63,83.09 L581.89,83.16 L583.15,83.22 L584.41,83.27 L585.65,83.31 L586.89,83.35 L588.13,83.38 L589.36,83.40 L590.58,83.42 L591.80,83.44 L593.02,83.44 L594.23,83.45 L595.44,83.45 L596.64,83.44 L597.84,83.43 L599.03,83.41 L600.23,83.40 L601.42,83.38 L602.60,83.35 L603.79,83.33 L604.97,83.30 L606.16,83.27 L607.34,83.23 L608.51,83.20 L609.69,83.16 L610.87,83.13 L612.05,83.09 L613.22,83.05 L614.40,83.01 L615.58,82.97 L616.76,82.94 L617.93,82.90 L619.11,82.86 L620.30,82.83 L621.48,82.80 L622.66,82.77 L623.85,82.74 L625.04,82.71 L626.23,82.68 L627.42,82.65 L628.61,82.63 L629.80,82.61 L631.00,82.58 L632.20,82.56 L633.39,82.54 L634.59,82.53 L635.79,82.51 L636.99,82.49 L638.20,82.48 L639.40,82.46 L640.60,82.45 L641.81,82.44 L643.02,82.42 L644.22,82.41 L645.43,82.40 L646.64,82.39 L647.85,82.39 L649.06,82.38 L650.27,82.37 L651.48,82.36 L652.70,82.36 L653.91,82.35 L655.12,82.35 L656.34,82.34 L657.55,82.34 L658.77,82.34 L659.98,82.33 L661.20,82.33 L662.41,82.33 L663.63,82.32 L664.85,82.32 L666.06,82.32 L667.28,82.32 L668.50,82.32 L669.71,82.32 L670.93,82.31 L672.15,82.31 L673.37,82.31 L674.58,82.31 L675.80,82.31 L677.02,82.31 L678.23,82.30 L679.45,82.30 L680.66,82.30 L681.88,82.30 L683.10,82.29 L684.31,82.29 L685.53,82.29 L686.74,82.28 L687.95,82.28 L689.17,82.28 L690.38,82.27 L691.59,82.27 L692.81,82.26 L694.02,82.26 L695.23,82.25 L696.44,82.25 L697.66,82.24 L698.87,82.24 L700.08,82.23 L701.29,82.22 L702.50,82.22 L703.71,82.21 L704.92,82.20 L706.13,82.20 L707.34,82.19 L708.55,82.18 L709.76,82.18 L710.97,82.17 L712.18,82.16 L713.39,82.15 L714.60,82.15 L715.81,82.14 L717.02,82.13 L718.23,82.12 L719.43,82.11 L720.64,82.10 L721.85,82.10 L723.06,82.09 L724.27,82.08 L725.47,82.07 L726.68,82.06 L727.89,82.05 L729.10,82.04 L730.30,82.03 L731.51,82.02 L732.72,82.01 L733.92,82.00 L735.13,81.99 L736.34,81.98 L737.54,81.97 L738.75,81.96 L739.96,81.95 L741.16,81.94 L742.37,81.93 L743.57,81.92 L744.78,81.91 L745.99,81.90 L747.19,81.89 L748.40,81.88 L749.60,81.87 L750.81,81.86 L752.01,81.85 L753.22,81.84 L754.43,81.82 L755.63,81.81 L756.84,81.80 L758.04,81.79 L759.25,81.78 L760.45,81.77 L761.66,81.76 L762.87,81.75 L764.07,81.74 L765.28,81.73 L766.48,81.72 L767.69,81.71 L768.89,81.69 L770.10,81.68 L771.31,81.67 L772.51,81.66 L773.72,81.65 L774.92,81.64 L776.13,81.63 L777.34,81.62 L778.54,81.61 L779.75,81.60 L780.96,81.59 L782.16,81.58 L783.37,81.57 L784.58,81.56 L785.78,81.55 L786.99,81.54 L788.20,81.53 L789.40,81.52 L790.61,81.51 L791.82,81.50 L793.03,81.49 L794.23,81.48 L795.44,81.47 L796.65,81.46 L797.86,81.45 L799.07,81.44 L800.28,81.43 L801.48,81.42 L802.69,81.42 L803.90,81.41 L805.11,81.40 L806.32,81.39 L807.53,81.38 L808.74,81.37 L809.95,81.37 L811.16,81.36 L812.37,81.35 L813.58,81.34 L814.79,81.33 L816.00,81.33 L817.21,81.32 L818.42,81.31 L819.64,81.31 L820.85,81.30 L822.06,81.29 L823.27,81.29 L824.49,81.28 L825.70,81.28 L826.91,81.27 L828.13,81.27 L829.34,81.26 L830.55,81.25 L831.77,81.25 L832.98,81.25 L834.20,81.24 L835.41,81.24 L836.63,81.23 L837.84,81.23" fill="none" stroke="#ff0000" stroke-width="6" stroke-linejoin="round" stroke-linecap="round"/>
<path d="M137.03,512.11 L138.24,512.09 L139.45,512.08 L140.66,512.06 L141.87,512.04 L143.08,512.02 L144.29,512.01 L145.50,511.99 L146.71,511.97 L147.92,511.96 L149.14,511.95 L150.35,511.93 L151.56,511.92 L152.77,511.91 L153.98,511.89 L155.19,511.88 L156.41,511.87 L157.62,511.86 L158.83,511.85 L160.04,511.84 L161.26,511.83 L162.47,511.83 L163.68,511.82 L164.89,511.81 L166.11,511.80 L167.32,511.80 L168.53,511.79 L169.75,511.79 L170.96,511.78 L172.17,511.78 L173.39,511.77 L174.60,511.77 L175.82,511.76 L177.03,511.76 L178.24,511.76 L179.46,511.76 L180.67,511.75 L181.89,511.75 L183.10,511.75 L184.32,511.75 L185.53,511.75 L186.75,511.75 L187.96,511.75 L189.18,511.75 L190.39,511.75 L191.61,511.75 L192.82,511.75 L194.04,511.75 L195.25,511.75 L196.47,511.75 L197.68,511.75 L198.90,511.76 L200.11,511.76 L201.33,511.76 L202.54,511.76 L203.76,511.76 L204.98,511.77 L206.19,511.77 L207.41,511.77 L208.62,511.78 L209.84,511.78 L211.05,511.78 L212.27,511.79 L213.49,511.79 L214.70,511.79 L215.92,511.80 L217.13,511.80 L218.35,511.80 L219.57,511.81 L220.78,511.81 L222.00,511.81 L223.21,511.82 L224.43,511.82 L225.65,511.83 L226.86,511.83 L228.08,511.83 L229.29,511.84 L230.51,511.84 L231.73,511.84 L232.94,511.85 L234.16,511.85 L235.37,511.85 L236.59,511.86 L237.81,511.86 L239.02,511.86 L240.24,511.87 L241.45,511.87 L242.67,511.87 L243.89,511.87 L245.10,511.88 L246.32,511.88 L247.53,511.88 L248.75,511.88 L249.96,511.88 L251.18,511.89 L252.40,511.89 L253.61,511.89 L254.83,511.89 L256.04,511.89 L257.26,511.89 L258.47,511.89 L259.69,511.89 L260.90,511.89 L262.12,511.89 L263.33,511.89 L264.55,511.88 L265.76,511.88 L266.98,511.88 L268.19,511.88 L269.41,511.87 L270.62,511.87 L271.83,511.87 L273.05,511.86 L274.26,511.86 L275.48,511.85 L276.69,511.85 L277.90,511.84 L279.12,511.84 L280.33,511.83 L281.55,511.82 L282.76,511.82 L283.97,511.81 L285.18,511.80 L286.40,511.79 L287.61,511.78 L288.82,511.77 L290.04,511.76 L291.25,511.75 L292.46,511.74 L293.67,511.73 L294.89,511.71 L296.10,511.70 L297.31,511.69 L298.52,511.67 L299.73,511.66 L300.94,511.64 L302.15,511.63 L303.37,511.61 L304.58,511.59 L305.79,511.57 L307.00,511.56 L308.21,511.54 L309.42,511.52 L310.63,511.50 L311.84,511.48 L313.05,511.46 L314.26,511.44 L315.47,511.42 L316.68,511.40 L317.89,511.38 L319.10,511.36 L320.31,511.34 L321.52,511.32 L322.73,511.30 L323.94,511.28 L325.15,511.26 L326.36,511.24 L327.57,511.22 L328.78,511.20 L329.99,511.18 L331.20,511.16 L332.41,511.15 L333.63,511.13 L334.84,511.11 L336.05,511.09 L337.26,511.08 L338.47,511.06 L339.68,511.05 L340.89,511.03 L342.10,511.02 L343.32,511.00 L344.53,510.99 L345.74,510.98 L346.95,510.97 L348.16,510.96 L349.38,510.95 L350.59,510.94 L351.80,510.93 L353.02,510.93 L354.23,510.92 L355.44,510.92 L356.66,510.91 L357.87,510.91 L359.09,510.91 L360.30,510.91 L361.52,510.91 L362.73,510.91 L363.95,510.92 L365.17,510.92 L366.38,510.93 L367.60,510.94 L368.82,510.95 L370.04,510.96 L371.25,510.97 L372.47,510.99 L373.69,511.00 L374.91,511.02 L376.13,511.04 L377.35,511.06 L378.57,511.09 L379.79,511.11 L381.01,511.14 L382.24,511.16 L383.46,511.19 L384.68,511.22 L385.90,511.26 L387.13,511.29 L388.35,511.32 L389.58,511.35 L390.80,511.38 L392.02,511.41 L393.25,511.44 L394.47,511.46 L395.70,511.49 L396.92,511.51 L398.15,511.53 L399.37,511.54 L400.60,511.56 L401.82,511.57 L403.04,511.57 L404.27,511.57 L405.49,511.57 L406.72,511.56 L407.94,511.55 L409.16,511.53 L410.39,511.50 L411.61,511.47 L412.83,511.44 L414.05,511.39 L415.27,511.34 L416.49,511.28 L417.71,511.21 L418.93,511.14 L420.15,511.06 L421.37,510.96 L422.59,510.86 L423.80,510.75 L425.02,510.63 L426.24,510.50 L427.45,510.36 L428.67,510.21 L429.88,510.05 L431.09,509.87 L432.30,509.69 L433.51,509.49 L434.72,509.28 L435.93,509.06 L437.13,508.82 L438.33,508.56 L439.51,508.29 L440.69,507.99 L441.85,507.67 L443.00,507.33 L444.13,506.95 L445.23,506.55 L446.32,506.12 L447.38,505.66 L448.42,505.17 L449.43,504.63 L450.41,504.06 L451.35,503.45 L452.26,502.80 L453.13,502.10 L453.96,501.36 L454.75,500.58 L455.50,499.74 L456.21,498.86 L456.88,497.94 L457.52,496.98 L458.12,495.99 L458.69,494.97 L459.23,493.91 L459.74,492.83 L460.22,491.72 L460.68,490.59 L461.11,489.44 L461.52,488.27 L461.92,487.10 L462.29,485.91 L462.65,484.71 L463.00,483.51 L463.33,482.30 L463.65,481.10 L463.97,479.90 L464.27,478.69 L464.56,477.49 L464.85,476.29 L465.12,475.08 L465.39,473.88 L465.64,472.68 L465.89,471.47 L466.13,470.27 L466.37,469.07 L466.59,467.87 L466.81,466.67 L467.02,465.47 L467.23,464.26 L467.43,463.06 L467.62,461.86 L467.80,460.66 L467.98,459.46 L468.15,458.25 L468.32,457.05 L468.49,455.85 L468.64,454.65 L468.80,453.45 L468.95,452.24 L469.09,451.04 L469.23,449.84 L469.37,448.64 L469.50,447.43 L469.64,446.23 L469.76,445.02 L469.89,443.82 L470.01,442.62 L470.13,441.41 L470.25,440.20 L470.37,439.00 L470.48,437.79 L470.60,436.58 L470.71,435.38 L470.82,434.17 L470.94,432.96 L471.05,431.75 L471.16,430.54 L471.27,429.33 L471.38,428.12 L471.49,426.91 L471.60,425.70 L471.71,424.49 L471.82,423.28 L471.93,422.07 L472.04,420.85 L472.15,419.64 L472.26,418.43 L472.37,417.21 L472.48,416.00 L472.59,414.79 L472.70,413.57 L472.81,412.36 L472.92,411.15 L473.03,409.93 L473.15,408.72 L473.26,407.50 L473.37,406.29 L473.49,405.07 L473.60,403.86 L473.72,402.64 L473.84,401.43 L473.96,400.22 L474.08,399.00 L474.20,397.79 L474.32,396.57 L474.44,395.36 L474.57,394.15 L474.70,392.93 L474.82,391.72 L474.95,390.51 L475.08,389.29 L475.22,388.08 L475.35,386.87 L475.49,385.66 L475.62,384.45 L475.76,383.23 L475.90,382.02 L476.05,380.81 L476.19,379.60 L476.34,378.39 L476.49,377.18 L476.64,375.98 L476.80,374.77 L476.95,373.56 L477.11,372.35 L477.28,371.15 L477.44,369.94 L477.61,368.73 L477.78,367.53 L477.95,366.33 L478.12,365.12 L478.30,363.92 L478.48,362.72 L478.67,361.52 L478.85,360.32 L479.04,359.12 L479.24,357.92 L479.43,356.72 L479.63,355.52 L479.83,354.33 L480.04,353.13 L480.25,351.93 L480.46,350.74 L480.68,349.55 L480.90,348.36 L481.13,347.17 L481.35,345.98 L481.58,344.79 L481.82,343.60 L482.06,342.41 L482.30,341.23 L482.55,340.04 L482.80,338.86 L483.06,337.68 L483.32,336.50 L483.58,335.32 L483.85,334.14 L484.12,332.96 L484.40,331.79 L484.68,330.61 L484.97,329.44 L485.26,328.27 L485.56,327.09 L485.86,325.93 L486.17,324.76 L486.48,323.59 L486.79,322.43 L487.11,321.26 L487.44,320.10 L487.77,318.94 L488.11,317.78 L488.45,316.62 L488.79,315.47 L489.15,314.31 L489.50,313.16 L489.87,312.01 L490.23,310.86 L490.61,309.71 L490.99,308.56 L491.37,307.42 L491.76,306.27 L492.15,305.13 L492.55,303.99 L492.95,302.85 L493.36,301.72 L493.78,300.58 L494.20,299.45 L494.62,298.32 L495.05,297.19 L495.48,296.06 L495.92,294.93 L496.37,293.81 L496.81,292.68 L497.27,291.56 L497.73,290.44 L498.19,289.32 L498.66,288.21 L499.13,287.09 L499.60,285.98 L500.09,284.87 L500.57,283.76 L501.06,282.65 L501.56,281.54 L502.06,280.44 L502.56,279.34 L503.07,278.23 L503.58,277.14 L504.10,276.04 L504.62,274.94 L505.14,273.85 L505.67,272.76 L506.21,271.67 L506.75,270.58 L507.29,269.49 L507.84,268.41 L508.39,267.32 L508.94,266.24 L509.50,265.16 L510.06,264.08 L510.63,263.01 L511.20,261.93 L511.78,260.86 L512.36,259.79 L512.94,258.72 L513.53,257.66 L514.12,256.59 L514.71,255.53 L515.31,254.47 L515.91,253.41 L516.52,252.35 L517.13,251.30 L517.74,250.25 L518.36,249.19 L518.98,248.15 L519.60,247.10 L520.23,246.05 L520.86,245.01 L521.49,243.97 L522.13,242.93 L522.77,241.89 L523.42,240.85 L524.07,239.82 L524.72,238.79 L525.37,237.76 L526.03,236.73 L526.69,235.71 L527.36,234.68 L528.03,233.66 L528.70,232.64 L529.37,231.62 L530.05,230.61 L530.73,229.59 L531.41,228.58 L532.10,227.57 L532.79,226.56 L533.48,225.56 L534.18,224.56 L534.88,223.55 L535.58,222.55 L536.28,221.56 L536.99,220.56 L537.70,219.57 L538.41,218.58 L539.13,217.59 L539.85,216.60 L540.57,215.62 L541.29,214.64 L542.02,213.66 L542.75,212.68 L543.48,211.70 L544.21,210.73 L544.95,209.75 L545.69,208.79 L546.43,207.82 L547.17,206.85 L547.92,205.89 L548.67,204.93 L549.42,203.97 L550.17,203.01 L550.93,202.06 L551.69,201.11 L552.45,200.16 L553.21,199.21 L553.98,198.26 L554.74,197.32 L555.51,196.38 L556.28,195.44 L557.05,194.50 L557.83,193.57 L558.61,192.63 L559.39,191.70 L560.17,190.78 L560.95,189.85 L561.74,188.93 L562.52,188.01 L563.31,187.09 L564.10,186.17 L564.90,185.26 L565.69,184.35 L566.49,183.44 L567.29,182.53 L568.09,181.63 L568.90,180.72 L569.70,179.82 L570.51,178.93 L571.32,178.03 L572.14,177.14 L572.95,176.25 L573.77,175.36 L574.59,174.47 L575.41,173.59 L576.23,172.71 L577.06,171.83 L577.89,170.95 L578.72,170.08 L579.55,169.21 L580.39,168.34 L581.23,167.47 L582.07,166.61 L582.91,165.75 L583.75,164.89 L584.60,164.03 L585.45,163.18 L586.30,162.33 L587.16,161.48 L588.01,160.63 L588.87,159.79 L589.74,158.95 L590.60,158.11 L591.47,157.27 L592.33,156.44 L593.21,155.61 L594.08,154.78 L594.96,153.95 L595.83,153.13 L596.72,152.31 L597.60,151.49 L598.49,150.67 L599.37,149.86 L600.27,149.05 L601.16,148.24 L602.06,147.44 L602.95,146.64 L603.86,145.84 L604.76,145.04 L605.67,144.24 L606.58,143.45 L607.49,142.66 L608.40,141.88 L609.32,141.09 L610.24,140.31 L611.16,139.53 L612.09,138.76 L613.01,137.98 L613.95,137.21 L614.88,136.45 L615.81,135.68 L616.75,134.92 L617.69,134.16 L618.64,133.40 L619.59,132.65 L620.53,131.90 L621.49,131.15 L622.44,130.41 L623.40,129.66 L624.36,128.92 L625.32,128.19 L626.29,127.45 L627.26,126.72 L628.23,125.99 L629.21,125.27 L630.18,124.54 L631.16,123.82 L632.15,123.11 L633.13,122.39 L634.12,121.68 L635.12,120.97 L636.11,120.27 L637.11,119.56 L638.11,118.86 L639.11,118.17 L640.12,117.47 L641.13,116.78 L642.14,116.09 L643.16,115.41 L644.18,114.73 L645.20,114.05 L646.22,113.37 L647.25,112.70 L648.28,112.03 L649.31,111.36 L650.35,110.70 L651.39,110.04 L652.43,109.38 L653.48,108.73 L654.52,108.08 L655.57,107.44 L656.62,106.79 L657.68,106.16 L658.74,105.53 L659.79,104.90 L660.86,104.27 L661.92,103.65 L662.99,103.04 L664.05,102.43 L665.12,101.83 L666.20,101.23 L667.27,100.63 L668.35,100.04 L669.42,99.46 L670.50,98.88 L671.58,98.30 L672.67,97.74 L673.75,97.17 L674.84,96.62 L675.93,96.07 L677.01,95.52 L678.11,94.99 L679.20,94.45 L680.29,93.93 L681.39,93.41 L682.48,92.90 L683.58,92.39 L684.68,91.89 L685.78,91.40 L686.88,90.91 L687.98,90.43 L689.08,89.96 L690.18,89.50 L691.28,89.04 L692.39,88.59 L693.49,88.15 L694.60,87.72 L695.71,87.29 L696.81,86.88 L697.92,86.47 L699.04,86.08 L700.15,85.70 L701.27,85.34 L702.39,85.00 L703.52,84.67 L704.66,84.37 L705.80,84.09 L706.95,83.84 L708.11,83.61 L709.27,83.40 L710.44,83.21 L711.61,83.04 L712.79,82.89 L713.97,82.74 L715.16,82.60 L716.34,82.48 L717.53,82.35 L718.72,82.24 L719.91,82.13 L721.10,82.02 L722.30,81.92 L723.49,81.83 L724.69,81.75 L725.89,81.67 L727.09,81.59 L728.29,81.52 L729.50,81.46 L730.70,81.40 L731.90,81.34 L733.11,81.29 L734.32,81.25 L735.53,81.21 L736.74,81.17 L737.95,81.14 L739.16,81.11 L740.38,81.09 L741.59,81.07 L742.81,81.06 L744.02,81.05 L745.24,81.04 L746.46,81.03 L747.68,81.03 L748.90,81.03 L750.12,81.04 L751.34,81.05 L752.56,81.06 L753.78,81.07 L755.01,81.09 L756.23,81.10 L757.45,81.12 L758.68,81.15 L759.90,81.17 L761.13,81.20 L762.36,81.23 L763.58,81.25 L764.81,81.29 L766.04,81.32 L767.26,81.35 L768.49,81.39 L769.72,81.42 L770.95,81.46 L772.18,81.49 L773.40,81.53 L774.63,81.57 L775.86,81.61 L777.09,81.65 L778.32,81.69 L779.54,81.72 L780.77,81.76 L782.00,81.80 L783.23,81.84 L784.45,81.87 L785.68,81.91 L786.91,81.94 L788.13,81.98 L789.36,82.01 L790.58,82.04 L791.81,82.07 L793.03,82.10 L794.26,82.13 L795.48,82.15 L796.70,82.17 L797.93,82.20 L799.15,82.21 L800.37,82.23 L801.59,82.24 L802.81,82.26 L804.03,82.26 L805.24,82.27 L806.46,82.27 L807.68,82.27 L808.89,82.27 L810.11,82.26 L811.32,82.25 L812.53,82.24 L813.74,82.22 L814.95,82.20 L816.16,82.17 L817.37,82.14 L818.57,82.11 L819.78,82.07 L820.98,82.02 L822.18,81.97 L823.38,81.92 L824.58,81.86 L825.78,81.80 L826.98,81.73 L828.17,81.66 L829.36,81.58 L830.55,81.50 L831.74,81.40 L832.93,81.31 L834.12,81.21 L835.30,81.10 L836.49,80.98 L837.67,80.86" fill="none" stroke="#ff0000" stroke-width="6" stroke-linejoin="round" stroke-linecap="round"/>
</g>
<rect x="137.0" y="15.3" width="700.8" height="561.9" fill="none" stroke="#000" stroke-width="2.2"/>
<path d="M208.0 577.2v-10 M278.0 577.2v-5 M348.0 577.2v-10 M418.0 577.2v-5 M488.0 577.2v-10 M558.0 577.2v-5 M628.0 577.2v-10 M698.0 577.2v-5 M768.0 577.2v-10 M137.0 530.9h5 M137.0 484.1h10 M137.0 437.3h5 M137.0 390.4h10 M137.0 343.6h5 M137.0 296.8h10 M137.0 250.0h5 M137.0 203.2h10 M137.0 156.3h5 M137.0 109.5h10 M137.0 62.7h5" stroke="#000" stroke-width="2.2" fill="none"/>
<g font-family="'Liberation Serif', 'Times New Roman', serif" font-weight="bold" font-size="36" fill="#000">
<text transform="translate(124.80,25.50) scale(1.040,1)" text-anchor="end">0.6</text>
<text transform="translate(124.80,119.42) scale(1.040,1)" text-anchor="end">0.4</text>
<text transform="translate(124.80,213.34) scale(1.040,1)" text-anchor="end">0.2</text>
<text transform="translate(124.80,307.26) scale(1.040,1)" text-anchor="end">0.0</text>
<text transform="translate(124.80,401.18) scale(1.040,1)" text-anchor="end">-0.2</text>
<text transform="translate(124.80,495.10) scale(1.040,1)" text-anchor="end">-0.4</text>
<text transform="translate(124.80,589.02) scale(1.040,1)" text-anchor="end">-0.6</text>
<text transform="translate(207.00,618.60) scale(1.060,1)" text-anchor="middle">-40</text>
<text transform="translate(347.00,618.60) scale(1.060,1)" text-anchor="middle">-20</text>
<text transform="translate(487.00,618.60) scale(1.060,1)" text-anchor="middle">0</text>
<text transform="translate(627.00,618.60) scale(1.060,1)" text-anchor="middle">20</text>
<text transform="translate(767.00,618.60) scale(1.060,1)" text-anchor="middle">40</text>
</g>
<rect x="162.7" y="28.2" width="261.3" height="96.5" fill="#fff" stroke="#333" stroke-width="1.5"/>
<line x1="166" y1="56.8" x2="233.5" y2="56.8" stroke="#0000ff" stroke-width="5.6" stroke-linecap="round"/>
<circle cx="198.8" cy="56.8" r="10.6" fill="#fff"/>
<circle cx="198.8" cy="56.8" r="7.55" fill="none" stroke="#0000ff" stroke-width="3.1"/>
<circle cx="198.8" cy="56.8" r="2" fill="#0000ff"/>
<line x1="166" y1="103.3" x2="233.5" y2="103.3" stroke="#ff0000" stroke-width="5.6" stroke-linecap="round"/>
<g transform="matrix(1.2957,0,0,0.9844,-116.79,9.80)"><text x="394" y="662" font-family="'Liberation Serif', 'Times New Roman', serif" font-size="49" font-style="italic">μ</text></g>
<g transform="matrix(1.1313,0,0,0.9708,-56.71,19.49)"><text x="425" y="674.5" font-family="'Liberation Serif', 'Times New Roman', serif" font-size="35" font-style="italic">0</text></g>
<g transform="matrix(0.9282,0,0,1.0219,32.43,-14.90)"><text x="442" y="662.6" font-family="'Liberation Serif', 'Times New Roman', serif" font-size="49" font-style="italic" font-weight="bold">H</text></g>
<g transform="matrix(0.9775,0,0,0.9767,9.88,13.95)"><text x="476" y="662.6" font-family="'Liberation Serif', 'Times New Roman', serif" font-size="49" font-weight="bold">(mT)</text></g>
<g transform="matrix(1.0000,0,0,1.2435,-0.50,-121.92)"><text transform="translate(34,494) rotate(-90)" font-family="'Liberation Serif', 'Times New Roman', serif" font-size="49" font-style="italic">ρ</text></g>
<g transform="matrix(1.0419,0,0,1.0837,-1.87,-39.17)"><text transform="translate(49,469) rotate(-90)" font-family="'Liberation Serif', 'Times New Roman', serif" font-size="46" font-style="italic" font-weight="bold">xy</text></g>
<g transform="matrix(0.9568,0,0,1.0072,1.30,-1.53)"><text transform="translate(34,409) rotate(-90)" font-family="'Liberation Serif', 'Times New Roman', serif" font-size="47.5" font-weight="bold">(Nano Ohm-m)</text></g>
<g transform="matrix(1.0387,0,0,0.9833,-9.26,0.62)"><text x="239" y="66.5" font-family="'Liberation Serif', 'Times New Roman', serif" font-size="36" font-weight="bold">AHE+THE</text></g>
<g transform="matrix(1.0434,0,0,0.9875,-10.38,1.51)"><text x="239" y="113" font-family="'Liberation Serif', 'Times New Roman', serif" font-size="36" font-weight="bold">AHE</text></g>
<g transform="matrix(1.0111,0,0,0.9792,-2.47,3.76)"><text x="156" y="179" font-family="'Liberation Serif', 'Times New Roman', serif" font-size="59" font-weight="bold">(a)</text></g>
<clipPath id="cb"><rect x="996.6" y="15.1" width="700.0" height="562.7"/></clipPath>
<defs><marker id="ah" viewBox="0 0 14 8" refX="13.5" refY="4" markerWidth="14" markerHeight="8" markerUnits="userSpaceOnUse" orient="auto"><path d="M0,0.3 L14,4 L0,7.7 L1,4 z" fill="#000"/></marker></defs>
<g stroke="#000" stroke-width="2.2">
<line x1="996.6" y1="328" x2="1696.6" y2="328"/>
<line x1="1347.2" y1="15.1" x2="1347.2" y2="577.8"/>
</g>
<g clip-path="url(#cb)">
<polygon points="996.0,325.5 1050.0,324.5 1096.5,321.6 1137.0,317.3 1161.4,314.3 1180.0,311.8 1197.3,309.8 1213.2,305.9 1226.5,302.5 1237.2,301.9 1249.1,303.9 1259.8,300.5 1273.1,294.5 1286.4,290.6 1299.7,286.6 1313.0,281.9 1323.6,275.9 1330.3,268.6 1336.9,258.0 1342.2,250.0 1347.2,241.7 1353.0,213.0 1359.5,190.0 1365.0,161.0 1369.5,141.0 1372.0,150.7 1377.2,181.7 1382.4,208.6 1386.5,233.4 1389.6,258.2 1393.1,281.4 1401.4,297.9 1413.8,310.3 1428.2,319.6 1440.6,324.8 1455.1,323.7 1473.7,322.7 1500.9,323.9 1524.5,323.1 1548.1,322.3 1571.7,319.9 1595.4,318.3 1619.0,317.6 1650.5,318.0 1682.0,318.3 1698.0,318.0 1698.0,327.5 1500.0,327.5 1455.1,328.9 1442.7,331.0 1428.2,335.1 1411.7,338.2 1391.0,342.4 1376.5,349.0 1366.1,355.2 1355.8,362.4 1347.5,370.7 1341.3,386.2 1335.1,402.7 1328.9,421.3 1323.1,435.8 1321.7,427.5 1316.5,406.8 1311.3,388.2 1306.2,369.6 1301.0,353.1 1291.7,342.7 1277.2,334.5 1260.7,329.3 1240.0,327.5 996.0,327.5" fill="url(#dots)"/>
<clipPath id="cf"><polygon points="996.0,325.5 1050.0,324.5 1096.5,321.6 1137.0,317.3 1161.4,314.3 1180.0,311.8 1197.3,309.8 1213.2,305.9 1226.5,302.5 1237.2,301.9 1249.1,303.9 1259.8,300.5 1273.1,294.5 1286.4,290.6 1299.7,286.6 1313.0,281.9 1323.6,275.9 1330.3,268.6 1336.9,258.0 1342.2,250.0 1347.2,241.7 1353.0,213.0 1359.5,190.0 1365.0,161.0 1369.5,141.0 1372.0,150.7 1377.2,181.7 1382.4,208.6 1386.5,233.4 1389.6,258.2 1393.1,281.4 1401.4,297.9 1413.8,310.3 1428.2,319.6 1440.6,324.8 1455.1,323.7 1473.7,322.7 1500.9,323.9 1524.5,323.1 1548.1,322.3 1571.7,319.9 1595.4,318.3 1619.0,317.6 1650.5,318.0 1682.0,318.3 1698.0,318.0 1698.0,327.5 1500.0,327.5 1455.1,328.9 1442.7,331.0 1428.2,335.1 1411.7,338.2 1391.0,342.4 1376.5,349.0 1366.1,355.2 1355.8,362.4 1347.5,370.7 1341.3,386.2 1335.1,402.7 1328.9,421.3 1323.1,435.8 1321.7,427.5 1316.5,406.8 1311.3,388.2 1306.2,369.6 1301.0,353.1 1291.7,342.7 1277.2,334.5 1260.7,329.3 1240.0,327.5 996.0,327.5"/></clipPath>
<g clip-path="url(#cf)" stroke="#168a8a" stroke-width="2.2">
<line x1="996.6" y1="328" x2="1696.6" y2="328"/>
<line x1="1347.2" y1="15.1" x2="1347.2" y2="577.8"/>
</g>
<polyline points="996.0,325.5 1050.0,324.5 1096.5,321.6 1137.0,317.3 1161.4,314.3 1180.0,311.8 1197.3,309.8 1213.2,305.9 1226.5,302.5 1237.2,301.9 1249.1,303.9 1259.8,300.5 1273.1,294.5 1286.4,290.6 1299.7,286.6 1313.0,281.9 1323.6,275.9 1330.3,268.6 1336.9,258.0 1342.2,250.0 1347.2,241.7 1353.0,213.0 1359.5,190.0 1365.0,161.0 1369.5,141.0 1372.0,150.7 1377.2,181.7 1382.4,208.6 1386.5,233.4 1389.6,258.2 1393.1,281.4 1401.4,297.9 1413.8,310.3 1428.2,319.6 1440.6,324.8 1455.1,323.7 1473.7,322.7 1500.9,323.9 1524.5,323.1 1548.1,322.3 1571.7,319.9 1595.4,318.3 1619.0,317.6 1650.5,318.0 1682.0,318.3 1698.0,318.0" fill="none" stroke="#000" stroke-width="2.5" stroke-dasharray="10 9"/>
<polyline points="1698.0,327.5 1500.0,327.5 1455.1,328.9 1442.7,331.0 1428.2,335.1 1411.7,338.2 1391.0,342.4 1376.5,349.0 1366.1,355.2 1355.8,362.4 1347.5,370.7 1341.3,386.2 1335.1,402.7 1328.9,421.3 1323.1,435.8 1321.7,427.5 1316.5,406.8 1311.3,388.2 1306.2,369.6 1301.0,353.1 1291.7,342.7 1277.2,334.5 1260.7,329.3 1240.0,327.5 996.0,327.5" fill="none" stroke="#000" stroke-width="2.5" stroke-dasharray="10 9"/>
</g>
<g fill="none" stroke="#111" stroke-width="1.2" marker-end="url(#ah)">
<path d="M1240.5,291.5 L1194.6,300.3"/>
<path d="M1328.9,254 Q1312,272 1289.7,281.6"/>
<path d="M1196.6,336.2 L1237.8,335.8"/>
<path d="M1254.5,337.6 Q1278,342 1290.7,358.3"/>
<path d="M1294.8,370.7 L1302,398.6"/>
<path d="M1312.4,426.5 Q1316,450 1323,446 Q1330,440 1335.1,425.5"/>
<path d="M1343,409 L1355.5,381.5"/>
<path d="M1366.2,372.3 Q1380,358 1400.3,353.3"/>
<path d="M1432.4,343.4 L1479.9,336.2"/>
<path d="M1481,316.1 L1446.8,316.1"/>
<path d="M1427.2,303.1 Q1412,296 1406.5,283.4"/>
<path d="M1398.9,257 L1391.8,223.3"/>
<path d="M1383.4,156.9 Q1376,128 1366,132 Q1359,138 1356.3,159.5"/>
<path d="M1351,191.4 L1343.9,226"/>
</g>
<rect x="996.6" y="15.1" width="700.0" height="562.7" fill="none" stroke="#000" stroke-width="2.2"/>
<path d="M1054.9 577.8v-5 M1113.3 577.8v-10 M1171.6 577.8v-5 M1229.9 577.8v-10 M1288.3 577.8v-5 M1346.6 577.8v-10 M1404.9 577.8v-5 M1463.3 577.8v-10 M1521.6 577.8v-5 M1579.9 577.8v-10 M1638.3 577.8v-5 M996.6 515.3h5 M996.6 452.8h10 M996.6 390.4h5 M996.6 327.9h10 M996.6 265.4h5 M996.6 202.9h10 M996.6 140.5h5 M996.6 78.0h10" stroke="#000" stroke-width="2.2" fill="none"/>
<g font-family="'Liberation Serif', 'Times New Roman', serif" font-weight="bold" font-size="36" fill="#000">
<text transform="translate(982.60,88.60) scale(1.040,1)" text-anchor="end">0.2</text>
<text transform="translate(982.60,213.55) scale(1.040,1)" text-anchor="end">0.1</text>
<text transform="translate(982.60,338.50) scale(1.040,1)" text-anchor="end">0.0</text>
<text transform="translate(982.60,463.45) scale(1.040,1)" text-anchor="end">-0.1</text>
<text transform="translate(982.60,588.40) scale(1.040,1)" text-anchor="end">-0.2</text>
<text transform="translate(996.00,619.20) scale(1.060,1)" text-anchor="middle">-30</text>
<text transform="translate(1112.67,619.20) scale(1.060,1)" text-anchor="middle">-20</text>
<text transform="translate(1229.33,619.20) scale(1.060,1)" text-anchor="middle">-10</text>
<text transform="translate(1346.00,619.20) scale(1.060,1)" text-anchor="middle">0</text>
<text transform="translate(1462.67,619.20) scale(1.060,1)" text-anchor="middle">10</text>
<text transform="translate(1579.33,619.20) scale(1.060,1)" text-anchor="middle">20</text>
<text transform="translate(1696.00,619.20) scale(1.060,1)" text-anchor="middle">30</text>
</g>
<rect x="1042" y="51.7" width="133.8" height="40.8" fill="#fff" stroke="#333" stroke-width="1.5"/>
<rect x="1045.5" y="61" width="52" height="24.5" fill="url(#dots2)"/>
<rect x="1045.5" y="61" width="52" height="24.5" fill="none" stroke="#666" stroke-width="2" stroke-dasharray="10 11" stroke-dashoffset="-1"/>
<g transform="matrix(1.1652,0,0,1.0031,-207.45,-1.60)"><text x="1255" y="662" font-family="'Liberation Serif', 'Times New Roman', serif" font-size="49" font-style="italic">μ</text></g>
<g transform="matrix(1.0938,0,0,1.0208,-120.98,-13.06)"><text x="1282" y="675" font-family="'Liberation Serif', 'Times New Roman', serif" font-size="35" font-style="italic">0</text></g>
<g transform="matrix(1.0026,0,0,1.0281,-3.13,-18.25)"><text x="1299" y="663" font-family="'Liberation Serif', 'Times New Roman', serif" font-size="49" font-style="italic" font-weight="bold">H</text></g>
<g transform="matrix(0.9775,0,0,0.9907,29.27,5.76)"><text x="1336" y="663" font-family="'Liberation Serif', 'Times New Roman', serif" font-size="49" font-weight="bold">(mT)</text></g>
<g transform="matrix(1.0325,0,0,1.3714,-28.81,-193.40)"><text transform="translate(898,517) rotate(-90)" font-family="'Liberation Serif', 'Times New Roman', serif" font-size="60" font-style="italic">ρ</text></g>
<g transform="matrix(1.0111,0,0,1.0679,-9.69,-29.73)"><text transform="translate(917,478) rotate(-90)" font-family="'Liberation Serif', 'Times New Roman', serif" font-size="27.5" font-style="italic" font-weight="bold">THE</text></g>
<g transform="matrix(1.0341,0,0,1.0069,-29.67,-1.11)"><text transform="translate(898,408) rotate(-90)" font-family="'Liberation Serif', 'Times New Roman', serif" font-size="47" font-weight="bold">(Nano Ohm-m)</text></g>
<g transform="matrix(1.0304,0,0,1.0474,-34.52,-4.13)"><text x="1113" y="82.8" font-family="'Liberation Serif', 'Times New Roman', serif" font-size="30">THE</text></g>
<g transform="matrix(1.0060,0,0,0.9925,-7.16,1.34)"><text x="1028" y="178.5" font-family="'Liberation Serif', 'Times New Roman', serif" font-size="59" font-weight="bold">(b)</text></g>
</svg>
</body></html>
